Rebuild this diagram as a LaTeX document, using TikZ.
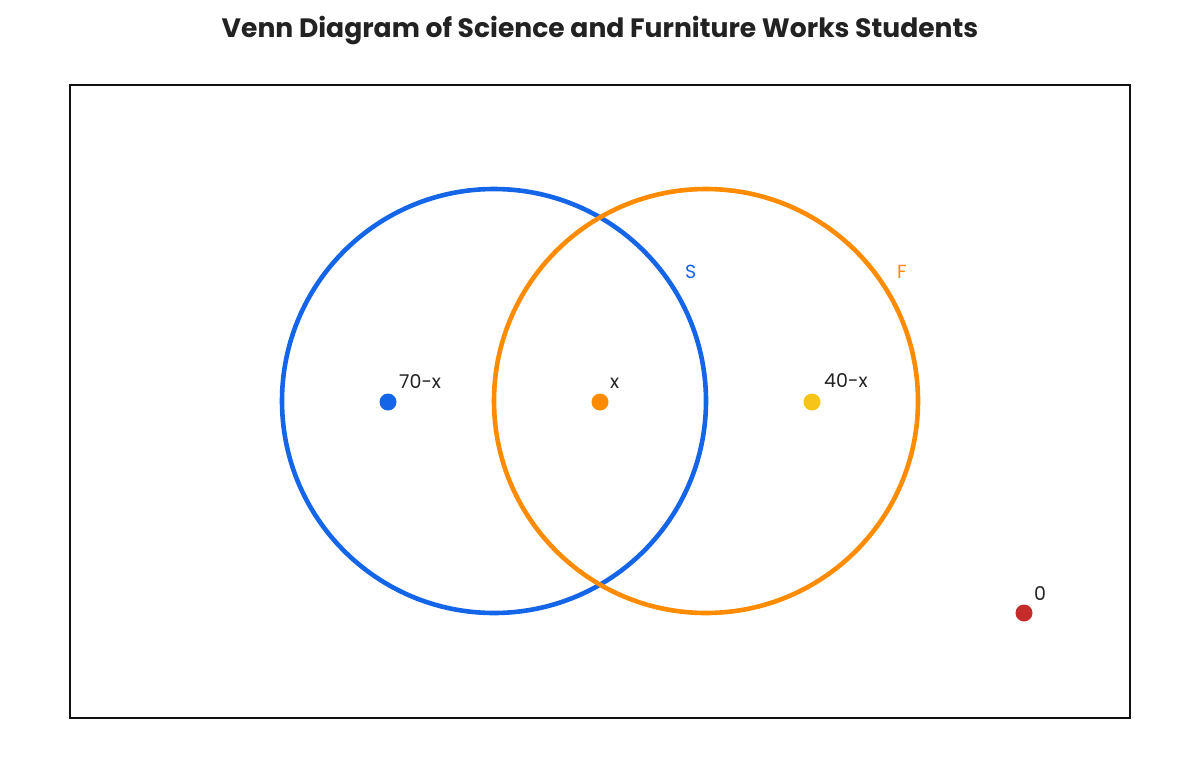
\documentclass[tikz,border=0pt]{standalone}
\usepackage{fontspec}
\setmainfont{Poppins}
\definecolor{cblue}{HTML}{1565E8}
\definecolor{corange}{HTML}{FF8C00}
\definecolor{cyellow}{HTML}{F7C517}
\definecolor{cred}{HTML}{C62B2B}
\definecolor{cframe}{HTML}{111111}
\definecolor{ctext}{HTML}{222222}
\tikzset{
  setcircle/.style={draw, line width=4.6pt, circle, minimum size=424pt, inner sep=0pt},
  dot/.style={circle, fill, minimum size=17pt, inner sep=0pt},
  lbl/.style={anchor=base west, inner sep=0pt, text=ctext, font=\fontsize{19}{22}\selectfont},
  setlbl/.style={anchor=base west, inner sep=0pt, font=\fontsize{19}{22}\selectfont},
}
\begin{document}
\begin{tikzpicture}[x=1pt,y=-1pt]
\useasboundingbox (0,0) rectangle (1200,763);
\node[font=\bfseries\fontsize{26.6}{30}\selectfont, text=ctext] (title) at (600,31) {Venn Diagram of Science and Furniture Works Students};
\draw[cframe, line width=2.5pt] (70,85) rectangle (1130,718);
\node[setcircle, cblue] (S) at (494,401) {};
\node[setcircle, corange] (F) at (706,401) {};
\node[setlbl, text=cblue] (Slbl) at (685,278) {S};
\node[setlbl, text=corange] (Flbl) at (897,278) {F};
\node[dot, cblue] (d1) at (388,402) {};
\node[dot, corange] (d2) at (600,402) {};
\node[dot, cyellow] (d3) at (812,402) {};
\node[dot, cred] (d4) at (1024,613) {};
\node[lbl] (l1) at (399,388) {70-x};
\node[lbl] (l2) at (610,388) {x};
\node[lbl] (l3) at (824,387) {40-x};
\node[lbl] (l4) at (1034,600) {0};
\end{tikzpicture}
\end{document}
